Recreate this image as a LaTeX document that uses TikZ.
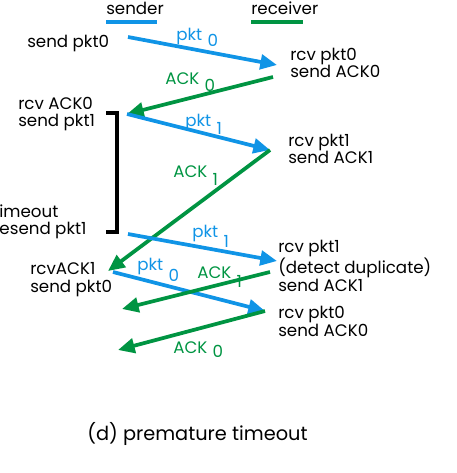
\documentclass[tikz,border=0pt]{standalone}
\usepackage{fontspec}
\setmainfont{Poppins}
\usetikzlibrary{arrows.meta}

\definecolor{sndblue}{RGB}{16,148,230}
\definecolor{rcvgreen}{RGB}{0,148,66}

\tikzset{
    pktarrow/.style={draw=sndblue, line width=2.8pt, -{Triangle[length=12.5pt,width=11pt]}},
    ackarrow/.style={draw=rcvgreen, line width=2.8pt, -{Triangle[length=12.5pt,width=11pt]}},
    evt/.style={anchor=base west, align=left, inner sep=0pt, font=\fontsize{12.5}{13.2}\selectfont},
    pktlbl/.style={anchor=base west, inner sep=0pt, text=sndblue, font=\fontsize{12.5}{13}\selectfont},
    acklbl/.style={anchor=base west, inner sep=0pt, text=rcvgreen, font=\fontsize{12.5}{13}\selectfont}
}

\begin{document}
\begin{tikzpicture}[x=0.75pt, y=-0.75pt]
        \useasboundingbox (0,0) rectangle (456,473);

        \node[evt] (sender) at (106,15) {sender};
        \node[evt] (receiver) at (251,15) {receiver};
        \draw[sndblue, line width=2.4pt] (sender.west |- 0,22) -- (157,22);
        \draw[rcvgreen, line width=2.4pt] (receiver.west |- 0,22) -- (303,22);

        \node[evt] (sndpkt0) at (27,48) {send pkt0};
        \node[evt] (rcvpkt0) at (290,78) {rcv pkt0\\send ACK0};
        \node[evt] (rcvack0) at (18,127) {rcv ACK0\\send pkt1};
        \node[evt] (rcvpkt1) at (288,164) {rcv pkt1\\send ACK1};
        \node[evt] (timeout) at (-7,235) {timeout\\resend pkt1};
        \node[evt] (rcvdup) at (278,291) {rcv pkt1\\(detect duplicate)\\send ACK1};
        \node[evt] (rcvack1) at (30,292) {rcvACK1\\send pkt0};
        \node[evt] (rcvpkt0b) at (278,336) {rcv pkt0\\send ACK0};

        \coordinate (sA) at (128,37);
        \coordinate (sB) at (127,114);
        \coordinate (sC) at (128,234);
        \coordinate (sD) at (108,271);
        \coordinate (sE) at (113,272);
        \coordinate (sF) at (122,309);
        \coordinate (sG) at (118,350);
        \coordinate (rA) at (277,65);
        \coordinate (rB) at (273,77);
        \coordinate (rC) at (270,150);
        \coordinate (rD) at (277,261);
        \coordinate (rE) at (270,272);
        \coordinate (rF) at (265,311);

        \draw[pktarrow] (sA) -- (rA);
        \draw[ackarrow] (rB) -- (sB);
        \draw[pktarrow] (sB) -- (rC);
        \draw[ackarrow] (rC) -- (sD);
        \draw[pktarrow] (sC) -- (rD);
        \draw[pktarrow] (sE) -- (rF);
        \draw[ackarrow] (rE) -- (sF);
        \draw[ackarrow] (rF) -- (sG);

        \draw[black, line width=2.4pt] (106,113) -- (117,113) -- (117,232) -- (106,232);

        \node[pktlbl] (lpkt0) at (176,41) {pkt\hspace{4pt}\raisebox{-4.5pt}{0}};
        \node[acklbl] (lack0) at (165,85) {ACK\hspace{4pt}\raisebox{-5pt}{0}};
        \node[pktlbl] (lpkt1) at (185,127) {pkt\hspace{4pt}\raisebox{-6pt}{1}};
        \node[acklbl] (lack1) at (173,178) {ACK\hspace{4pt}\raisebox{-5.5pt}{1}};
        \node[pktlbl] (lpkt1b) at (192,238) {pkt\hspace{4pt}\raisebox{-7pt}{1}};
        \node[pktlbl] (lpkt0b) at (137,270) {pkt\hspace{4pt}\raisebox{-9pt}{0}};
        \node[acklbl] (lack1b) at (197,278) {ACK\hspace{4pt}\raisebox{-7pt}{1}};
        \node[acklbl] (lack0b) at (173,353) {ACK\hspace{4pt}\raisebox{-3.5pt}{0}};

        \node[evt, font=\fontsize{14.5}{15}\selectfont] (caption) at (87,440) {(d) premature timeout};
\end{tikzpicture}
\end{document}
